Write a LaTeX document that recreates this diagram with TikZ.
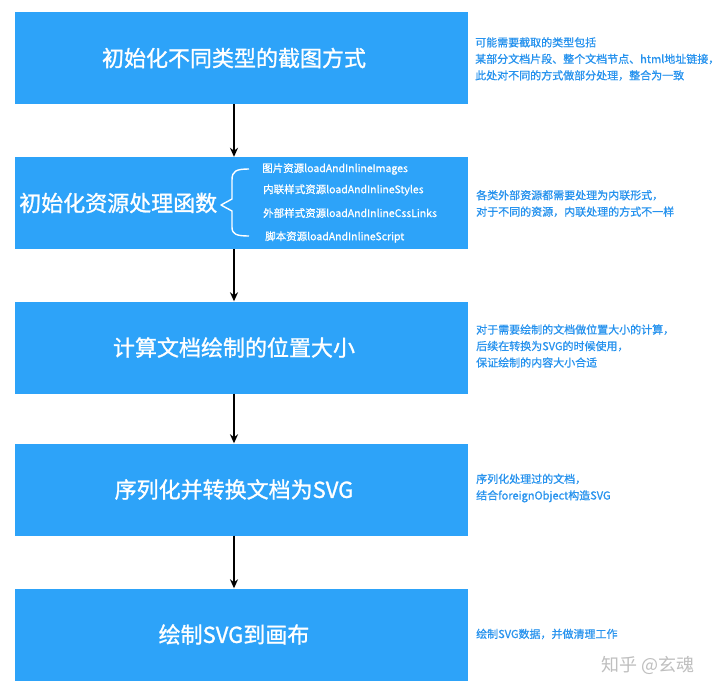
\documentclass[tikz,border=0pt]{standalone}
\usepackage{fontspec}
\setmainfont{Noto Sans CJK SC}
\newfontfamily\medfont[FakeBold=1.2]{Noto Sans CJK SC}
\newfontfamily\subfont[FakeBold=0.8]{Noto Sans CJK SC}
\usetikzlibrary{arrows.meta}
\definecolor{boxblue}{RGB}{45,163,249}
\definecolor{noteblue}{RGB}{38,146,238}
\tikzset{
  x=1pt, y=-1pt,
  stepbox/.style={fill=boxblue, draw=none, minimum width=453pt, minimum height=92pt, inner sep=0pt},
  title/.style={text=white, font=\medfont\fontsize{22}{26}\selectfont, inner sep=0pt},
  sub/.style={text=white, font=\subfont\fontsize{10.5}{12}\selectfont, anchor=west, inner sep=0pt},
  note/.style={text=noteblue, font=\subfont\fontsize{11}{16.5}\selectfont, anchor=west, align=left, inner sep=0pt},
  arr/.style={-{Stealth[length=9pt,width=8pt]}, line width=1.5pt, black},
}
\begin{document}
\begin{tikzpicture}
\useasboundingbox[fill=white] (0,0) rectangle (720,697);
% boxes
\node[stepbox] (b1) at (241.5,58) {};
\node[stepbox] (b2) at (241.5,203) {};
\node[stepbox] (b3) at (241.5,347.5) {};
\node[stepbox] (b4) at (241.5,489.5) {};
\node[stepbox] (b5) at (241.5,634.5) {};
% titles
\node[title] (t1) at (234,58) {初始化不同类型的截图方式};
\node[title, anchor=west] (t2) at (19,203) {初始化资源处理函数};
\node[title] (t3) at (234,347.5) {计算文档绘制的位置大小};
\node[title] (t4) at (234,489.5) {序列化并转换文档为SVG};
\node[title] (t5) at (234,634.5) {绘制SVG到画布};
% brace
\coordinate (bt) at (249,169);
\coordinate (bb) at (249,236);
\coordinate (btip) at (221,205);
\draw[white, line width=1.4pt, line join=round]
  (bt) .. controls (236,169) and (232,171) .. (232,180) -- (232,199)
  -- (btip) -- (232,211) -- (232,227)
  .. controls (232,234) and (236,236) .. (bb);
% sub items
\node[sub] (s1) at (262,169) {图片资源loadAndInlineImages};
\node[sub] (s2) at (263,190) {内联样式资源loadAndInlineStyles};
\node[sub] (s3) at (263,213) {外部样式资源loadAndInlineCssLinks};
\node[sub] (s4) at (265,237) {脚本资源loadAndInlineScript};
% arrows
\coordinate (ax) at (234,0);
\draw[arr] (b1.south -| ax) -- (b2.north -| ax);
\draw[arr] (b2.south -| ax) -- (b3.north -| ax);
\draw[arr] (b3.south -| ax) -- (b4.north -| ax);
\draw[arr] (b4.south -| ax) -- (b5.north -| ax);
% notes
\node[note] (n1) at (475,59) {可能需要截取的类型包括\\某部分文档片段、整个文档节点、html地址链接，\\此处对不同的方式做部分处理，整合为一致};
\node[note] (n2) at (476,203.5) {各类外部资源都需要处理为内联形式，\\对于不同的资源，内联处理的方式不一样};
\node[note] (n3) at (476,346) {对于需要绘制的文档做位置大小的计算，\\后续在转换为SVG的时候使用，\\保证绘制的内容大小合适};
\node[note] (n4) at (476,488) {序列化处理过的文档，\\结合foreignObject构造SVG};
\node[note] (n5) at (476,634) {绘制SVG数据，并做清理工作};
% watermark
\node[text=black!25, font=\fontsize{18}{20}\selectfont, inner sep=0pt] (wm) at (648,665) {知乎 @玄魂};
\end{tikzpicture}
\end{document}
